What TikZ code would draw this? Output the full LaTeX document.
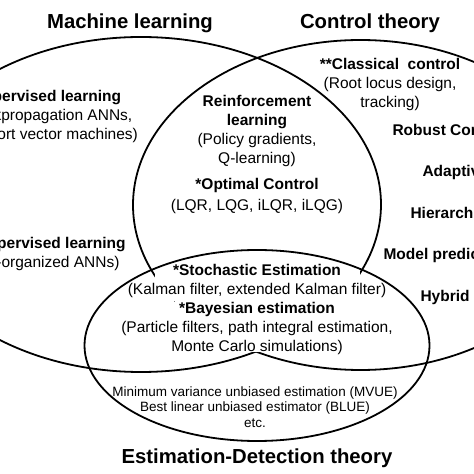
\documentclass[tikz,border=0pt]{standalone}
\usepackage{fontspec}
\setmainfont{Liberation Sans}
\tikzset{settitle/.style={font=\bfseries\fontsize{20.3}{24}\selectfont},
 topic/.style={align=center,font=\fontsize{15.5}{19}\selectfont},
 method/.style={anchor=west,font=\bfseries\fontsize{15.5}{19}\selectfont},
 minor/.style={align=center,font=\fontsize{13.5}{15.8}\selectfont},
 estrow/.style={fill=white,inner xsep=4pt,inner ysep=0pt,text height=12.5pt,text depth=6.5pt,font=\fontsize{15.5}{19}\selectfont},
 setline/.style={line width=1.8pt}}

\begin{document}
\begin{tikzpicture}[x=1pt,y=1pt]
 \useasboundingbox (0,0) rectangle (474,474);
 \clip (0,0) rectangle (474,474);
 % machine learning and control theory sets
 \draw[setline] (141,269.5) ellipse [x radius=240pt,y radius=167.5pt];
 \draw[setline] (360.5,269) ellipse [x radius=227.5pt,y radius=165pt];
 \node[settitle] (mltitle) at (130,451) {Machine learning};
 \node[settitle] (cttitle) at (370,451) {Control theory};
 \node[settitle] (edtitle) at (257,16) {Estimation-Detection theory};
 % machine learning only
 \node[topic] (sup) at (47,358) {\textbf{Supervised learning}\\(Backpropagation ANNs,\\(Support vector machines)};
 \node[topic] (unsup) at (42,220) {\textbf{Unsupervised learning}\\(Self-organized ANNs)};
 % machine learning and control
 \node[topic] (rl) at (257,343) {\textbf{Reinforcement}\\\textbf{learning}\\(Policy gradients,\\Q-learning)};
 \node[topic] (oc) at (257,278) {\textbf{*Optimal Control}\\[2pt](LQR, LQG, iLQR, iLQG)};
 % control only
 \node[topic] (cc) at (390,390) {\textbf{**Classical\ \ control}\\(Root locus design,\\tracking)};
 \node[method] (robust) at (389,344) {Robust Control};
 \node[method] (adapt) at (419,302) {Adaptive control};
 \node[method] (hier) at (407,261) {Hierarchical control};
 \node[method] (mpc) at (380,219) {Model predictive control};
 \node[method] (hybrid) at (417,177) {Hybrid control};
 % all three: white rows hide the other sets' lines
 \node[estrow,minimum width=205pt] (stoch) at (257,201) {\bfseries *Stochastic Estimation};
 \node[estrow] (kalman) at (257,182) {(Kalman filter, extended Kalman filter)};
 \node[estrow] (bayes) at (257,163) {\bfseries *Bayesian estimation};
 \node[estrow] (particle) at (257,144) {(Particle filters, path integral estimation,};
 \node[estrow,text depth=0.5pt] (monte) at (257,128) {Monte Carlo simulations)};
 % estimation set
 \draw[setline] (257,128.5) ellipse [x radius=172.5pt,y radius=95.5pt];
 \node[minor] (mvue) at (255,67) {Minimum variance unbiased estimation (MVUE)\\Best linear unbiased estimator (BLUE)\\etc.};
\end{tikzpicture}
\end{document}
